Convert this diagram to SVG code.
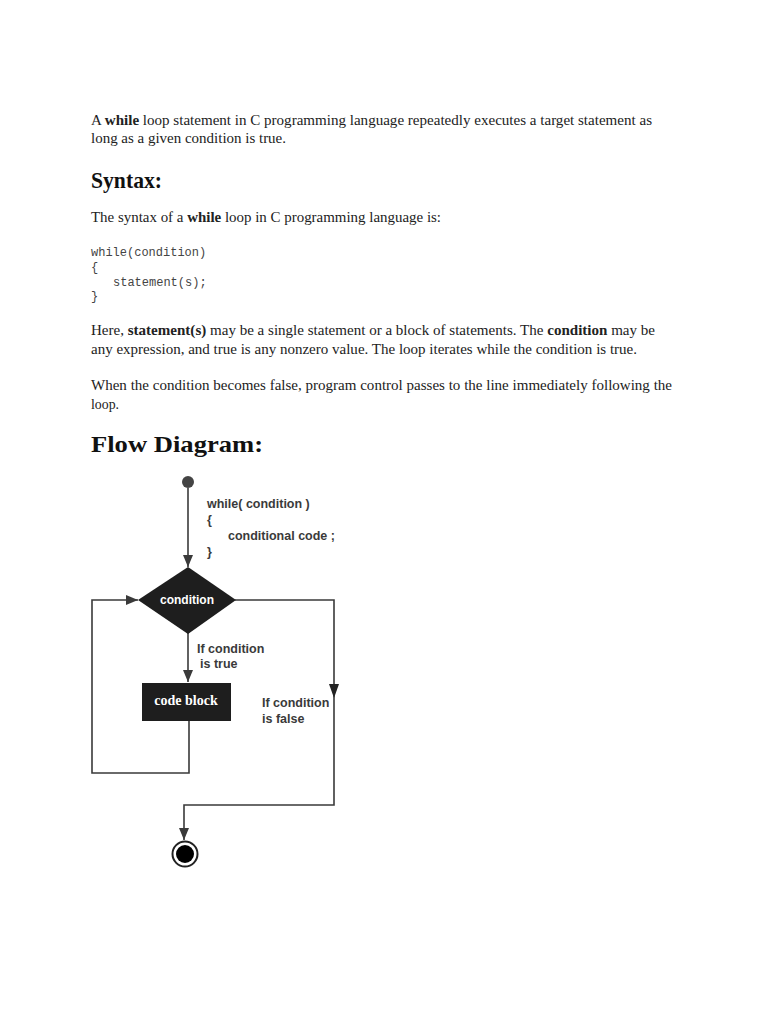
<svg xmlns="http://www.w3.org/2000/svg" width="768" height="1024" viewBox="0 0 768 1024">
<style>
.body{font-family:"Liberation Serif","Times New Roman",serif;font-size:14px;fill:#222}
.h{font-family:"Liberation Serif","Times New Roman",serif;font-size:24px;font-weight:bold;fill:#111}
.code{font-family:"Liberation Mono","Courier New",monospace;font-size:12px;fill:#444}
.lbl{font-family:"Liberation Sans",Arial,sans-serif;font-size:12.5px;font-weight:bold;fill:#3a3a3a}
.wl{font-family:"Liberation Sans",Arial,sans-serif;font-size:12px;font-weight:bold;fill:#fff}
.cb{font-family:"Liberation Serif","Times New Roman",serif;font-size:14px;font-weight:bold;fill:#fff}
.ln{fill:none;stroke:#3a3a3a;stroke-width:1.6}
</style>
<defs>
<marker id="arrL" viewBox="0 0 12 10" refX="12" refY="5" markerWidth="13" markerHeight="10" markerUnits="userSpaceOnUse" orient="auto">
<path d="M0,0 L12,5 L0,10 z" fill="#3a3a3a"/>
</marker>
</defs>
<rect width="768" height="1024" fill="#fff"/>

<g id="text">
<text class="body" x="91" y="125" textLength="561" lengthAdjust="spacingAndGlyphs">A <tspan font-weight="bold">while</tspan> loop statement in C programming language repeatedly executes a target statement as</text>
<text class="body" x="91" y="143" textLength="195" lengthAdjust="spacingAndGlyphs">long as a given condition is true.</text>
<text class="h" x="91" y="188" textLength="71" lengthAdjust="spacingAndGlyphs">Syntax:</text>
<text class="body" x="91" y="222" textLength="350" lengthAdjust="spacingAndGlyphs">The syntax of a <tspan font-weight="bold">while</tspan> loop in C programming language is:</text>
<text class="code" x="91" y="256">while(condition)</text>
<text class="code" x="91" y="271">{</text>
<text class="code" x="113" y="286">statement(s);</text>
<text class="code" x="91" y="300">}</text>
<text class="body" x="91" y="335" textLength="564" lengthAdjust="spacingAndGlyphs">Here, <tspan font-weight="bold">statement(s)</tspan> may be a single statement or a block of statements. The <tspan font-weight="bold">condition</tspan> may be</text>
<text class="body" x="91" y="354" textLength="546" lengthAdjust="spacingAndGlyphs">any expression, and true is any nonzero value. The loop iterates while the condition is true.</text>
<text class="body" x="91" y="390" textLength="581" lengthAdjust="spacingAndGlyphs">When the condition becomes false, program control passes to the line immediately following the</text>
<text class="body" x="91" y="409" textLength="28" lengthAdjust="spacingAndGlyphs">loop.</text>
<text class="h" x="91" y="452" textLength="172" lengthAdjust="spacingAndGlyphs">Flow Diagram:</text>
</g>

<g id="connectors">
<path class="ln" d="M188,488 L188,567" marker-end="url(#arrL)"/>
<path class="ln" d="M188,633 L188,682" marker-end="url(#arrL)"/>
<path class="ln" d="M189,721 L189,773 L92,773 L92,600 L138,600" marker-end="url(#arrL)"/>
<path class="ln" d="M235,600 L334,600 L334,697"/>
<path d="M329,684 L339,684 L334,698 z" fill="#222"/>
<path class="ln" d="M334,697 L334,805 L184,805 L184,840" marker-end="url(#arrL)"/>
</g>

<g id="start">
<circle cx="188" cy="482" r="6" fill="#444"/>
</g>

<g id="code-note">
<text class="lbl" x="207" y="508">while( condition )</text>
<text class="lbl" x="207" y="524">{</text>
<text class="lbl" x="228" y="540">conditional code ;</text>
<text class="lbl" x="207" y="556">}</text>
</g>

<g id="condition">
<polygon points="188,567 236,600 188,634 138,600" fill="#1e1e1e"/>
<text class="wl" x="187" y="604" text-anchor="middle">condition</text>
</g>

<g id="label-true">
<text class="lbl" x="197" y="653">If condition</text>
<text class="lbl" x="200" y="668">is true</text>
</g>

<g id="code-block">
<rect x="142" y="683" width="89" height="38" fill="#1e1e1e"/>
<text class="cb" x="186" y="705" text-anchor="middle">code block</text>
</g>

<g id="label-false">
<text class="lbl" x="262" y="707">If condition</text>
<text class="lbl" x="262" y="723">is false</text>
</g>

<g id="end">
<circle cx="185" cy="854" r="12.5" fill="#fff" stroke="#222" stroke-width="2"/>
<circle cx="185" cy="854" r="9" fill="#000"/>
</g>
</svg>
